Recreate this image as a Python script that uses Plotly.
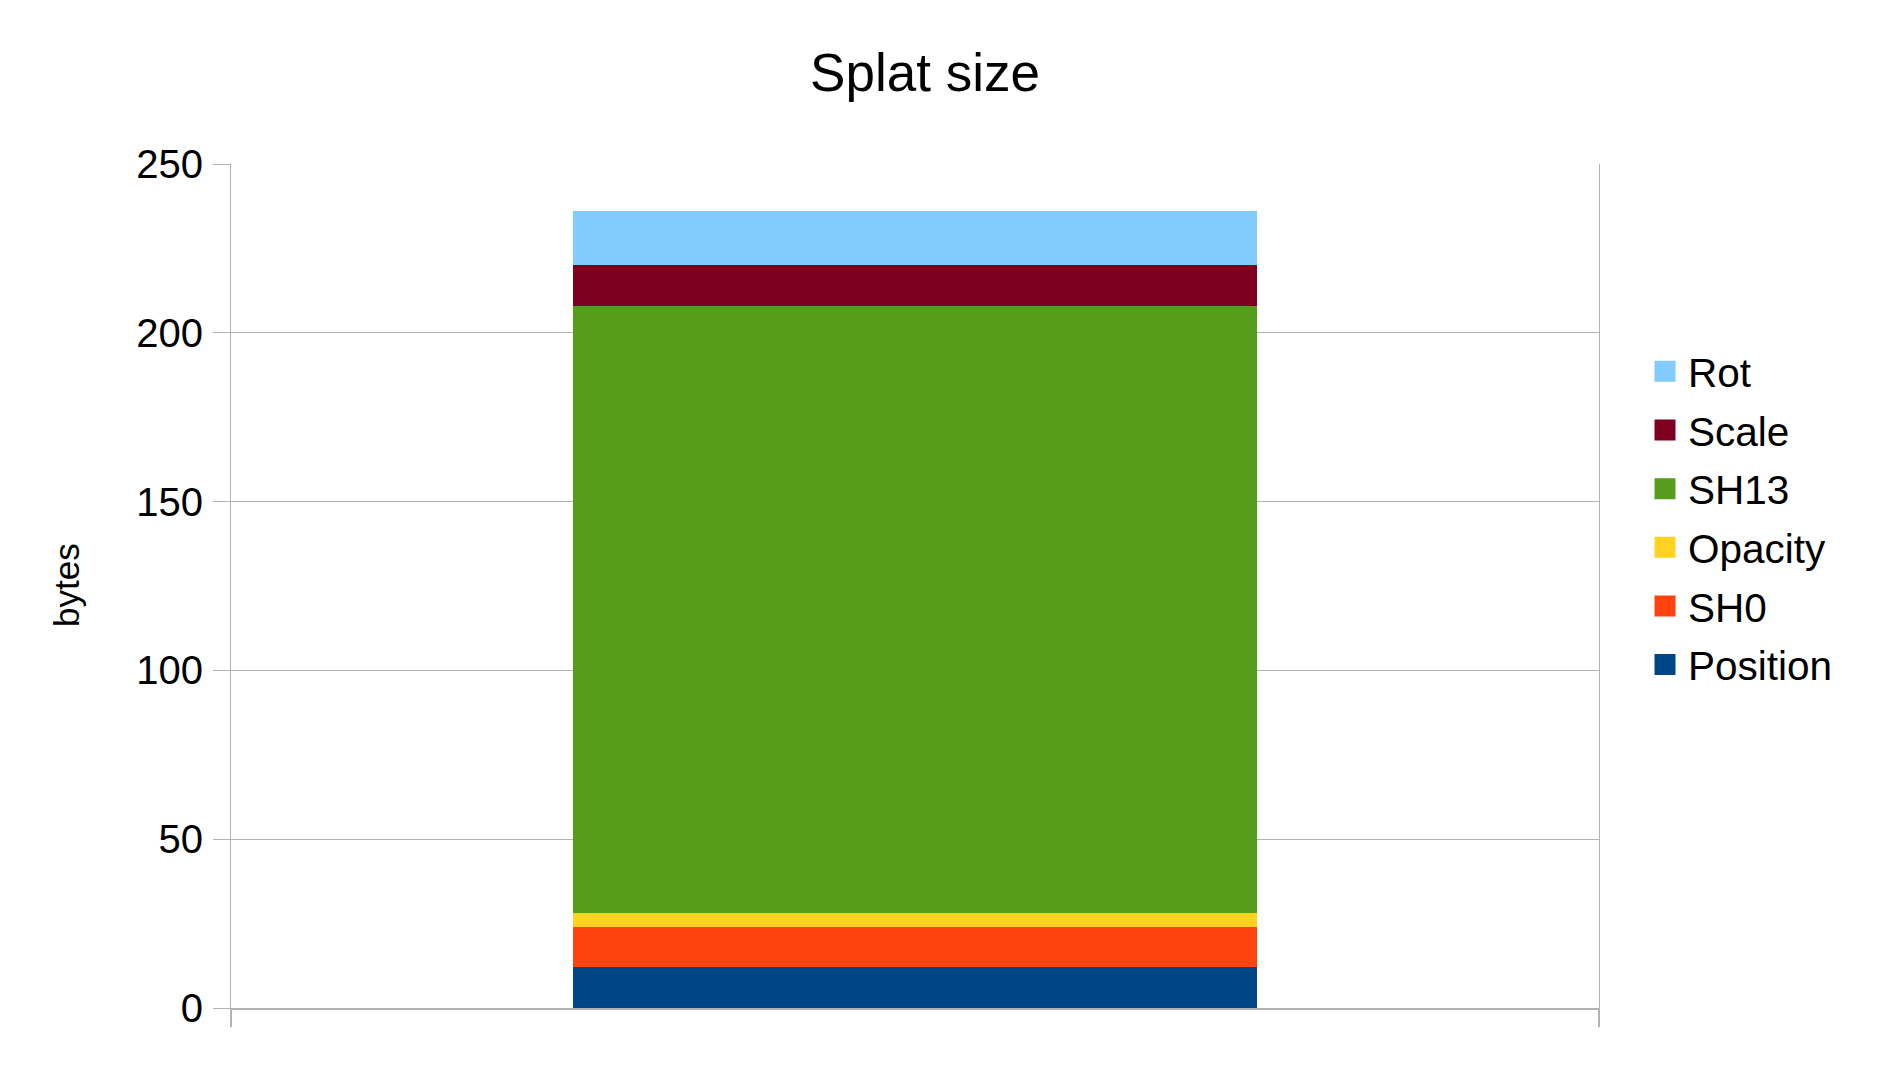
import plotly.graph_objects as go

# Data (bottom to top of the stack)
series_names = ["Position", "SH0", "Opacity", "SH13", "Scale", "Rot"]
series_values = [12, 12, 4, 180, 12, 16]
series_colors = ["#004586", "#ff420e", "#ffd320", "#579d1c", "#7e0021", "#83caff"]
category = [0]
y_ticks = [0, 50, 100, 150, 200, 250]

W, H = 1888, 1067
OFF = 8  # page body margin
L, R, T, B = 231 - OFF, 1888 - 1599 + OFF, 164 - OFF, 1067 - 1008 + OFF
pw, ph = W - L - R, H - T - B
FONT = "Liberation Sans, Arial, sans-serif"
GRID = "#b3b3b3"

fig = go.Figure()
for name, val, col in zip(series_names, series_values, series_colors):
    fig.add_trace(go.Bar(
        x=category, y=[val], name=name, width=0.5,
        marker=dict(color=col, line=dict(width=0)),
        showlegend=False, legendgroup=name,
    ))
# legend proxies with larger square icons (top of stack listed first)
for name, col in zip(series_names[::-1], series_colors[::-1]):
    fig.add_trace(go.Scatter(
        x=[None], y=[None], mode="markers", name=name, legendgroup=name,
        marker=dict(symbol="square", size=20, color=col,
                    line=dict(color=col, width=5)),
    ))

fig.update_layout(
    width=W, height=H,
    barmode="stack",
    bargap=0,
    paper_bgcolor="white", plot_bgcolor="white",
    margin=dict(l=L, r=R, t=T, b=B),
    font=dict(family=FONT, color="black"),
    title=dict(text="Splat size", x=(925 - OFF) / W, xanchor="center",
               y=1 - (72 - OFF) / H, yanchor="middle",
               font=dict(size=53, family=FONT, color="black")),
    xaxis=dict(type="linear", range=[-0.5, 0.5], tickvals=[-0.5, 0.5],
               showticklabels=False, ticks="outside", ticklen=17,
               tickcolor=GRID, tickwidth=1.5, showgrid=False, zeroline=False,
               showline=True, linecolor=GRID, linewidth=2),
    yaxis=dict(range=[0, 250], tickvals=y_ticks, ticks="outside", ticklen=17,
               tickcolor=GRID, tickwidth=1, gridcolor=GRID, gridwidth=1,
               showline=True, linecolor=GRID, linewidth=1, mirror=True,
               zeroline=False, ticklabelstandoff=2,
               tickfont=dict(size=40, family=FONT, color="black")),
    legend=dict(x=(1642 - 231) / pw, xanchor="left",
                y=(1008 - 518) / ph, yanchor="middle",
                traceorder="grouped", tracegroupgap=3, itemsizing="trace",
                font=dict(size=40.5, family=FONT, color="black"),
                bgcolor="rgba(0,0,0,0)", itemwidth=36),
    annotations=[dict(text="bytes", textangle=-90, showarrow=False,
                      xref="paper", yref="paper",
                      x=(66 - 231) / pw, y=(1008 - 585) / ph,
                      xanchor="center", yanchor="middle",
                      font=dict(size=35, family=FONT, color="black"))],
)

fig.write_html("out.html")
